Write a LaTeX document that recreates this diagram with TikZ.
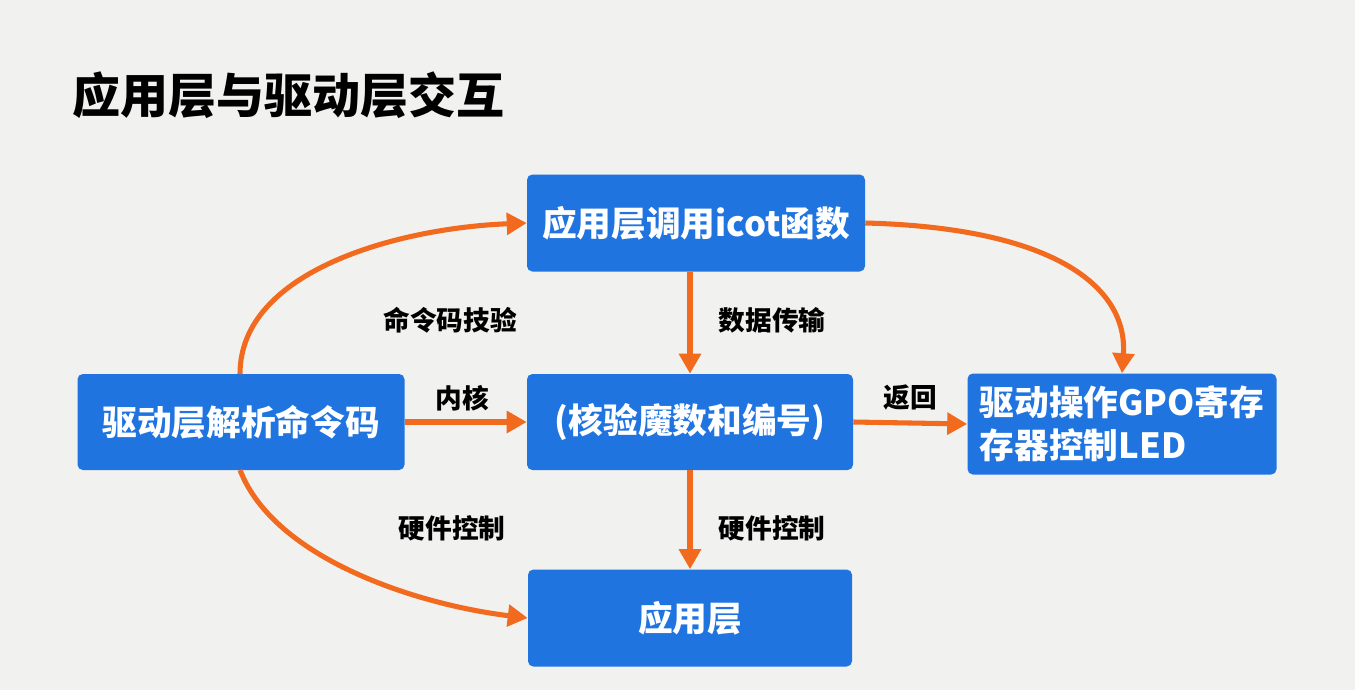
\documentclass[tikz,border=0pt]{standalone}
\usepackage{fontspec}
\setmainfont{Noto Sans CJK SC}
\usetikzlibrary{arrows.meta}
\definecolor{boxblue}{HTML}{1F74E0}
\definecolor{arr}{HTML}{F26A1E}
\definecolor{bg}{HTML}{F1F1F0}
\tikzset{
  box/.style={fill=boxblue,rounded corners=4pt,text=white,font=\bfseries\fontsize{26}{32}\selectfont,align=center,inner sep=2pt},
  flow/.style={draw=arr,line width=3.8pt,-{Triangle[length=15pt,width=16pt]}},
  lbl/.style={font=\bfseries\fontsize{20}{24}\selectfont,text=black}
}
\begin{document}
\begin{tikzpicture}[x=0.75pt,y=-0.75pt]
\fill[bg] (0,0) rectangle (1355,690);
\useasboundingbox (0,0) rectangle (1355,690);
\node[anchor=west,font=\bfseries\fontsize{36}{42}\selectfont] (title) at (68,95) {应用层与驱动层交互};
\node[box,minimum width=253.5pt,minimum height=72.75pt] (top) at (696,223) {应用层调用icot函数};
\node[box,minimum width=244.5pt,minimum height=72pt] (mid) at (690,422) {(核验魔数和编号)};
\node[box,minimum width=245.25pt,minimum height=72pt] (left) at (241,422) {驱动层解析命令码};
\node[box,minimum width=231.75pt,minimum height=75.75pt,align=left] (right) at (1122,424) {驱动操作GPO寄存\\存器控制LED};
\node[box,minimum width=243pt,minimum height=72.75pt] (bot) at (690,618) {应用层};
\coordinate (lt) at (240,374);
\coordinate (lb) at (240,470);
\draw[flow] (lt) .. controls (240,270) and (400,228) .. (top.west);
\draw[flow] (top.east) .. controls (1060,228) and (1128,290) .. (right.north);
\draw[flow] (top.south -| mid.north) -- (mid.north);
\draw[flow] (left.east) -- (mid.west);
\draw[flow] (mid.east) -- (right.west);
\draw[flow] (mid.south) -- (bot.north);
\draw[flow] (lb) .. controls (275,560) and (420,605) .. (bot.west);
\node[lbl] (l1) at (450,320) {命令码技验};
\node[lbl] (l2) at (772,320) {数据传输};
\node[lbl] (l3) at (462,398) {内核};
\node[lbl] (l4) at (910,398) {返回};
\node[lbl] (l5) at (452,528) {硬件控制};
\node[lbl] (l6) at (772,528) {硬件控制};
\end{tikzpicture}
\end{document}
